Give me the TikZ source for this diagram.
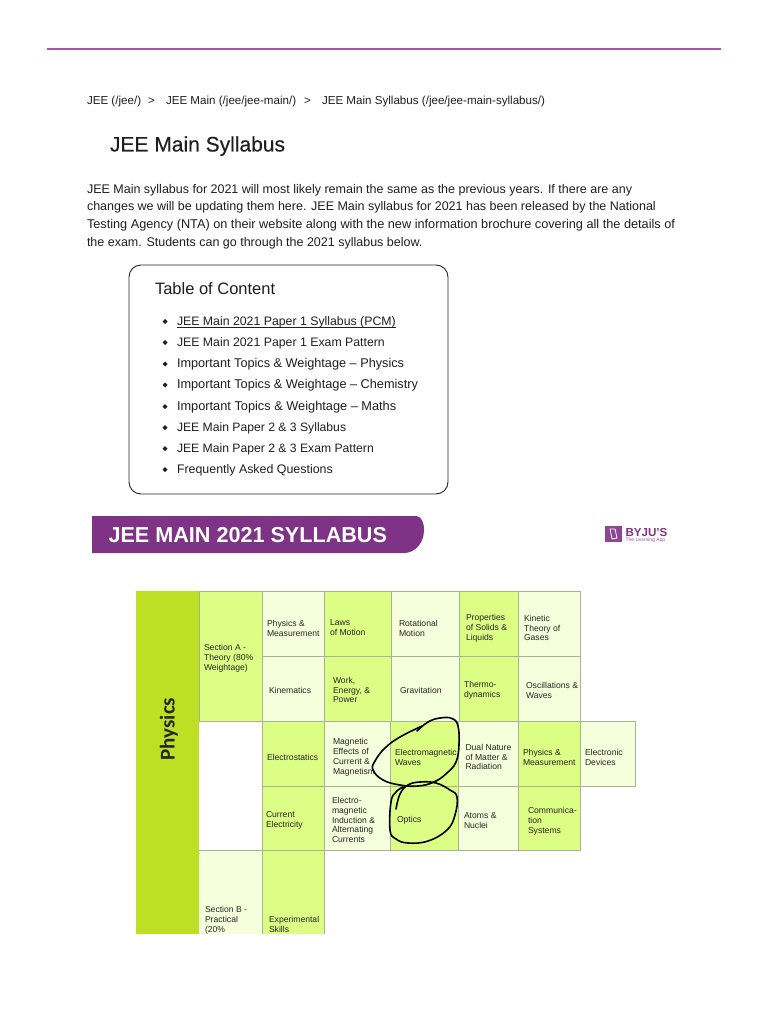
\documentclass[tikz,border=0pt]{standalone}
\usepackage{fontspec}
\setmainfont{Liberation Sans}
\newfontfamily\physfont{Carlito}
\newfontfamily\medfont[FakeBold=0.35]{Liberation Sans}
\usetikzlibrary{shapes.geometric}
\definecolor{rulepurple}{HTML}{A8569F}
\definecolor{banner}{HTML}{7F3387}
\definecolor{lime}{HTML}{DCFE85}
\definecolor{pale}{HTML}{F6FFDC}
\definecolor{deep}{HTML}{BDE024}
\definecolor{edgegray}{HTML}{A9B294}
\definecolor{ink}{HTML}{1F1F1F}
\tikzset{
 x=1pt,y=-1pt,
 every node/.style={inner sep=0pt,outer sep=0pt},
 body/.style={anchor=base west,font=\fontsize{12.5}{15}\selectfont,text=ink},
 crumb/.style={anchor=base west,font=\fontsize{11.6}{14}\selectfont,text=ink},
 toc/.style={anchor=base west,text=ink},
 bul/.style={diamond,fill=ink,minimum size=5pt},
 limecell/.style={draw=edgegray,line width=.6pt,fill=lime},
 palecell/.style={draw=edgegray,line width=.6pt,fill=pale},
 lab/.style={anchor=west,align=left,font=\fontsize{8.6}{9.9}\selectfont,text=black!85},
 ring/.style={draw=black,line width=1.6pt,line cap=round,line join=round},
}
\newcommand{\cellbox}[5]{\path[#1] (#2,#3) rectangle (#4,#5);}
\begin{document}
\begin{tikzpicture}
\useasboundingbox (0,0) rectangle (768,1024);
\fill[white] (0,0) rectangle (768,1024);
\draw[rulepurple,line width=1.2pt] (47,49) -- (721,49);
\node[crumb] (c1) at (87,105) {JEE (/jee/)};
\node[crumb] (c2) at (148,105) {>};
\node[crumb] (c3) at (166,105) {JEE Main (/jee/jee-main/)};
\node[crumb] (c4) at (304,105) {>};
\node[crumb] (c5) at (322,105) {JEE Main Syllabus (/jee/jee-main-syllabus/)};
\node[anchor=base west,font=\medfont\fontsize{21}{24}\selectfont,text=ink] (title) at (110,151.5) {JEE Main Syllabus};
\node[body] (p1) at (87,194) {JEE Main syllabus for 2021 will most likely remain the same as the previous years. If there are any};
\node[body] (p2) at (87,211) {changes we will be updating them here. JEE Main syllabus for 2021 has been released by the National};
\node[body,font=\fontsize{12.72}{15}\selectfont] (p3) at (87,229) {Testing Agency (NTA) on their website along with the new information brochure covering all the details of};
\node[body] (p4) at (87,246) {the exam. Students can go through the 2021 syllabus below.};
% table of content
\draw[black!85,line width=.9pt,rounded corners=12pt] (129,265) rectangle (448,494);
\node[anchor=base west,font=\fontsize{16.5}{20}\selectfont,text=ink] (tt) at (155,294) {Table of Content};
\foreach \yy/\sz/\tx in {325/12.3/{JEE Main 2021 Paper 1 Syllabus (PCM)},346/12.3/{JEE Main 2021 Paper 1 Exam Pattern},367.5/12.7/{Important Topics \& Weightage – Physics},388.5/12.73/{Important Topics \& Weightage – Chemistry},410/12.78/{Important Topics \& Weightage – Maths},431/12.17/{JEE Main Paper 2 \& 3 Syllabus},452/12.17/{JEE Main Paper 2 \& 3 Exam Pattern},473/12.4/{Frequently Asked Questions}}{
  \node[bul] at (165,\yy-3.5) {};
  \node[toc,font=\fontsize{\sz}{15}\selectfont] at (177,\yy) {\tx};
}
\draw[ink,line width=.6pt] (177,327.5) -- (396,327.5);
% banner
\fill[banner] (92,516) -- (416,516) .. controls (421,516) and (424,522) .. (424,530) .. controls (424,543) and (415,553) .. (404,553) -- (92,553) -- cycle;
\node[anchor=base west,font=\bfseries\fontsize{21.6}{24}\selectfont,text=white] (bt) at (108.5,542) {JEE MAIN 2021 SYLLABUS};
% logo
\fill[banner!90] (605,525.5) rectangle (622,542);
\draw[white,line width=.8pt,line join=round] (610,529) -- (615,529) -- (617,538) -- (612,539) -- cycle;
\node[anchor=base west,font=\bfseries\fontsize{11.6}{12}\selectfont,text=banner] (by) at (625.5,536) {BYJU'S};
\node[anchor=base west,font=\fontsize{5}{5}\selectfont,text=banner!80] (bl) at (625.5,541.5) {The Learning App};
% table
\fill[deep] (136,591) rectangle (199,934);
\cellbox{limecell}{199}{591}{262}{721}
\cellbox{palecell}{262}{591}{324}{656}
\cellbox{limecell}{324}{591}{391}{656}
\cellbox{palecell}{391}{591}{459}{656}
\cellbox{limecell}{459}{591}{518}{656}
\cellbox{palecell}{518}{591}{580}{656}
\cellbox{palecell}{262}{656}{324}{721}
\cellbox{limecell}{324}{656}{391}{721}
\cellbox{palecell}{391}{656}{459}{721}
\cellbox{limecell}{459}{656}{518}{721}
\cellbox{palecell}{518}{656}{580}{721}
\cellbox{limecell}{262}{721}{324}{786}
\cellbox{palecell}{324}{721}{390}{786}
\cellbox{limecell}{390}{721}{458}{786}
\cellbox{palecell}{458}{721}{518}{786}
\cellbox{limecell}{518}{721}{580}{786}
\cellbox{palecell}{580}{721}{635}{786}
\cellbox{limecell}{262}{786}{324}{850}
\cellbox{palecell}{324}{786}{390}{850}
\cellbox{limecell}{390}{786}{458}{850}
\cellbox{palecell}{458}{786}{518}{850}
\cellbox{limecell}{518}{786}{580}{850}
\fill[pale] (199,850) rectangle (262,934);
\fill[lime] (262,850) rectangle (324,934);
\draw[edgegray,line width=.6pt] (199,850) -- (324,850) -- (324,934);
\draw[edgegray,line width=.6pt] (262,850) -- (262,934);
\node[rotate=90,font=\physfont\bfseries\fontsize{21}{24}\selectfont,text=black!85] (phys) at (169,729) {Physics};
\node[lab] (l1) at (204,658.5) {Section A -\\Theory (80\%\\Weightage)};
\node[lab] (l2) at (267,628) {Physics \&\\Measurement};
\node[lab] (l3) at (330,628) {Laws\\of Motion};
\node[lab] (l4) at (399,628) {Rotational\\Motion};
\node[lab] (l5) at (466,628) {Properties\\of Solids \&\\Liquids};
\node[lab] (l6) at (524,628) {Kinetic\\Theory of\\Gases};
\node[lab] (l7) at (269,690) {Kinematics};
\node[lab] (l8) at (333,690) {Work,\\Energy, \&\\Power};
\node[lab] (l9) at (400,690) {Gravitation};
\node[lab] (l10) at (464,690) {Thermo-\\dynamics};
\node[lab] (l11) at (526,690) {Oscillations \&\\Waves};
\node[lab] (l12) at (267,757) {Electrostatics};
\node[lab] (l13) at (333,757) {Magnetic\\Effects of\\Current \&\\Magnetism};
\node[lab] (l14) at (395,757) {Electromagnetic\\Waves};
\node[lab] (l15) at (465.5,757) {Dual Nature\\of Matter \&\\Radiation};
\node[lab] (l16) at (523,757) {Physics \&\\Measurement};
\node[lab] (l17) at (585,757) {Electronic\\Devices};
\node[lab] (l18) at (266,820.5) {Current\\Electricity};
\node[lab] (l19) at (332,820) {Electro-\\magnetic\\Induction \&\\Alternating\\Currents};
\node[lab] (l20) at (397,820.5) {Optics};
\node[lab] (l21) at (464,820.5) {Atoms \&\\Nuclei};
\node[lab] (l22) at (528,821) {Communica-\\tion\\Systems};
\node[lab] (l23) at (205,920) {Section B -\\Practical\\(20\%};
\node[lab] (l24) at (269,924) {Experimental\\Skills};
% hand-drawn rings
\draw[ring] plot[smooth,tension=.7] coordinates {(417,731) (428,722) (440,718) (452,718.5) (458,726) (459,745) (456,762) (447,773) (434,782) (418,786) (400,785) (383,780) (373,770) (375,761) (385,748) (400,737) (422,726)};
\draw[ring] plot[smooth,tension=.7] coordinates {(396,809) (400,794) (408,785) (420,782) (436,783) (450,790) (457,797) (455,815) (447,830) (428,841) (408,843) (396,839) (390,830) (391,802) (396,792) (403,787)};
\end{tikzpicture}
\end{document}
